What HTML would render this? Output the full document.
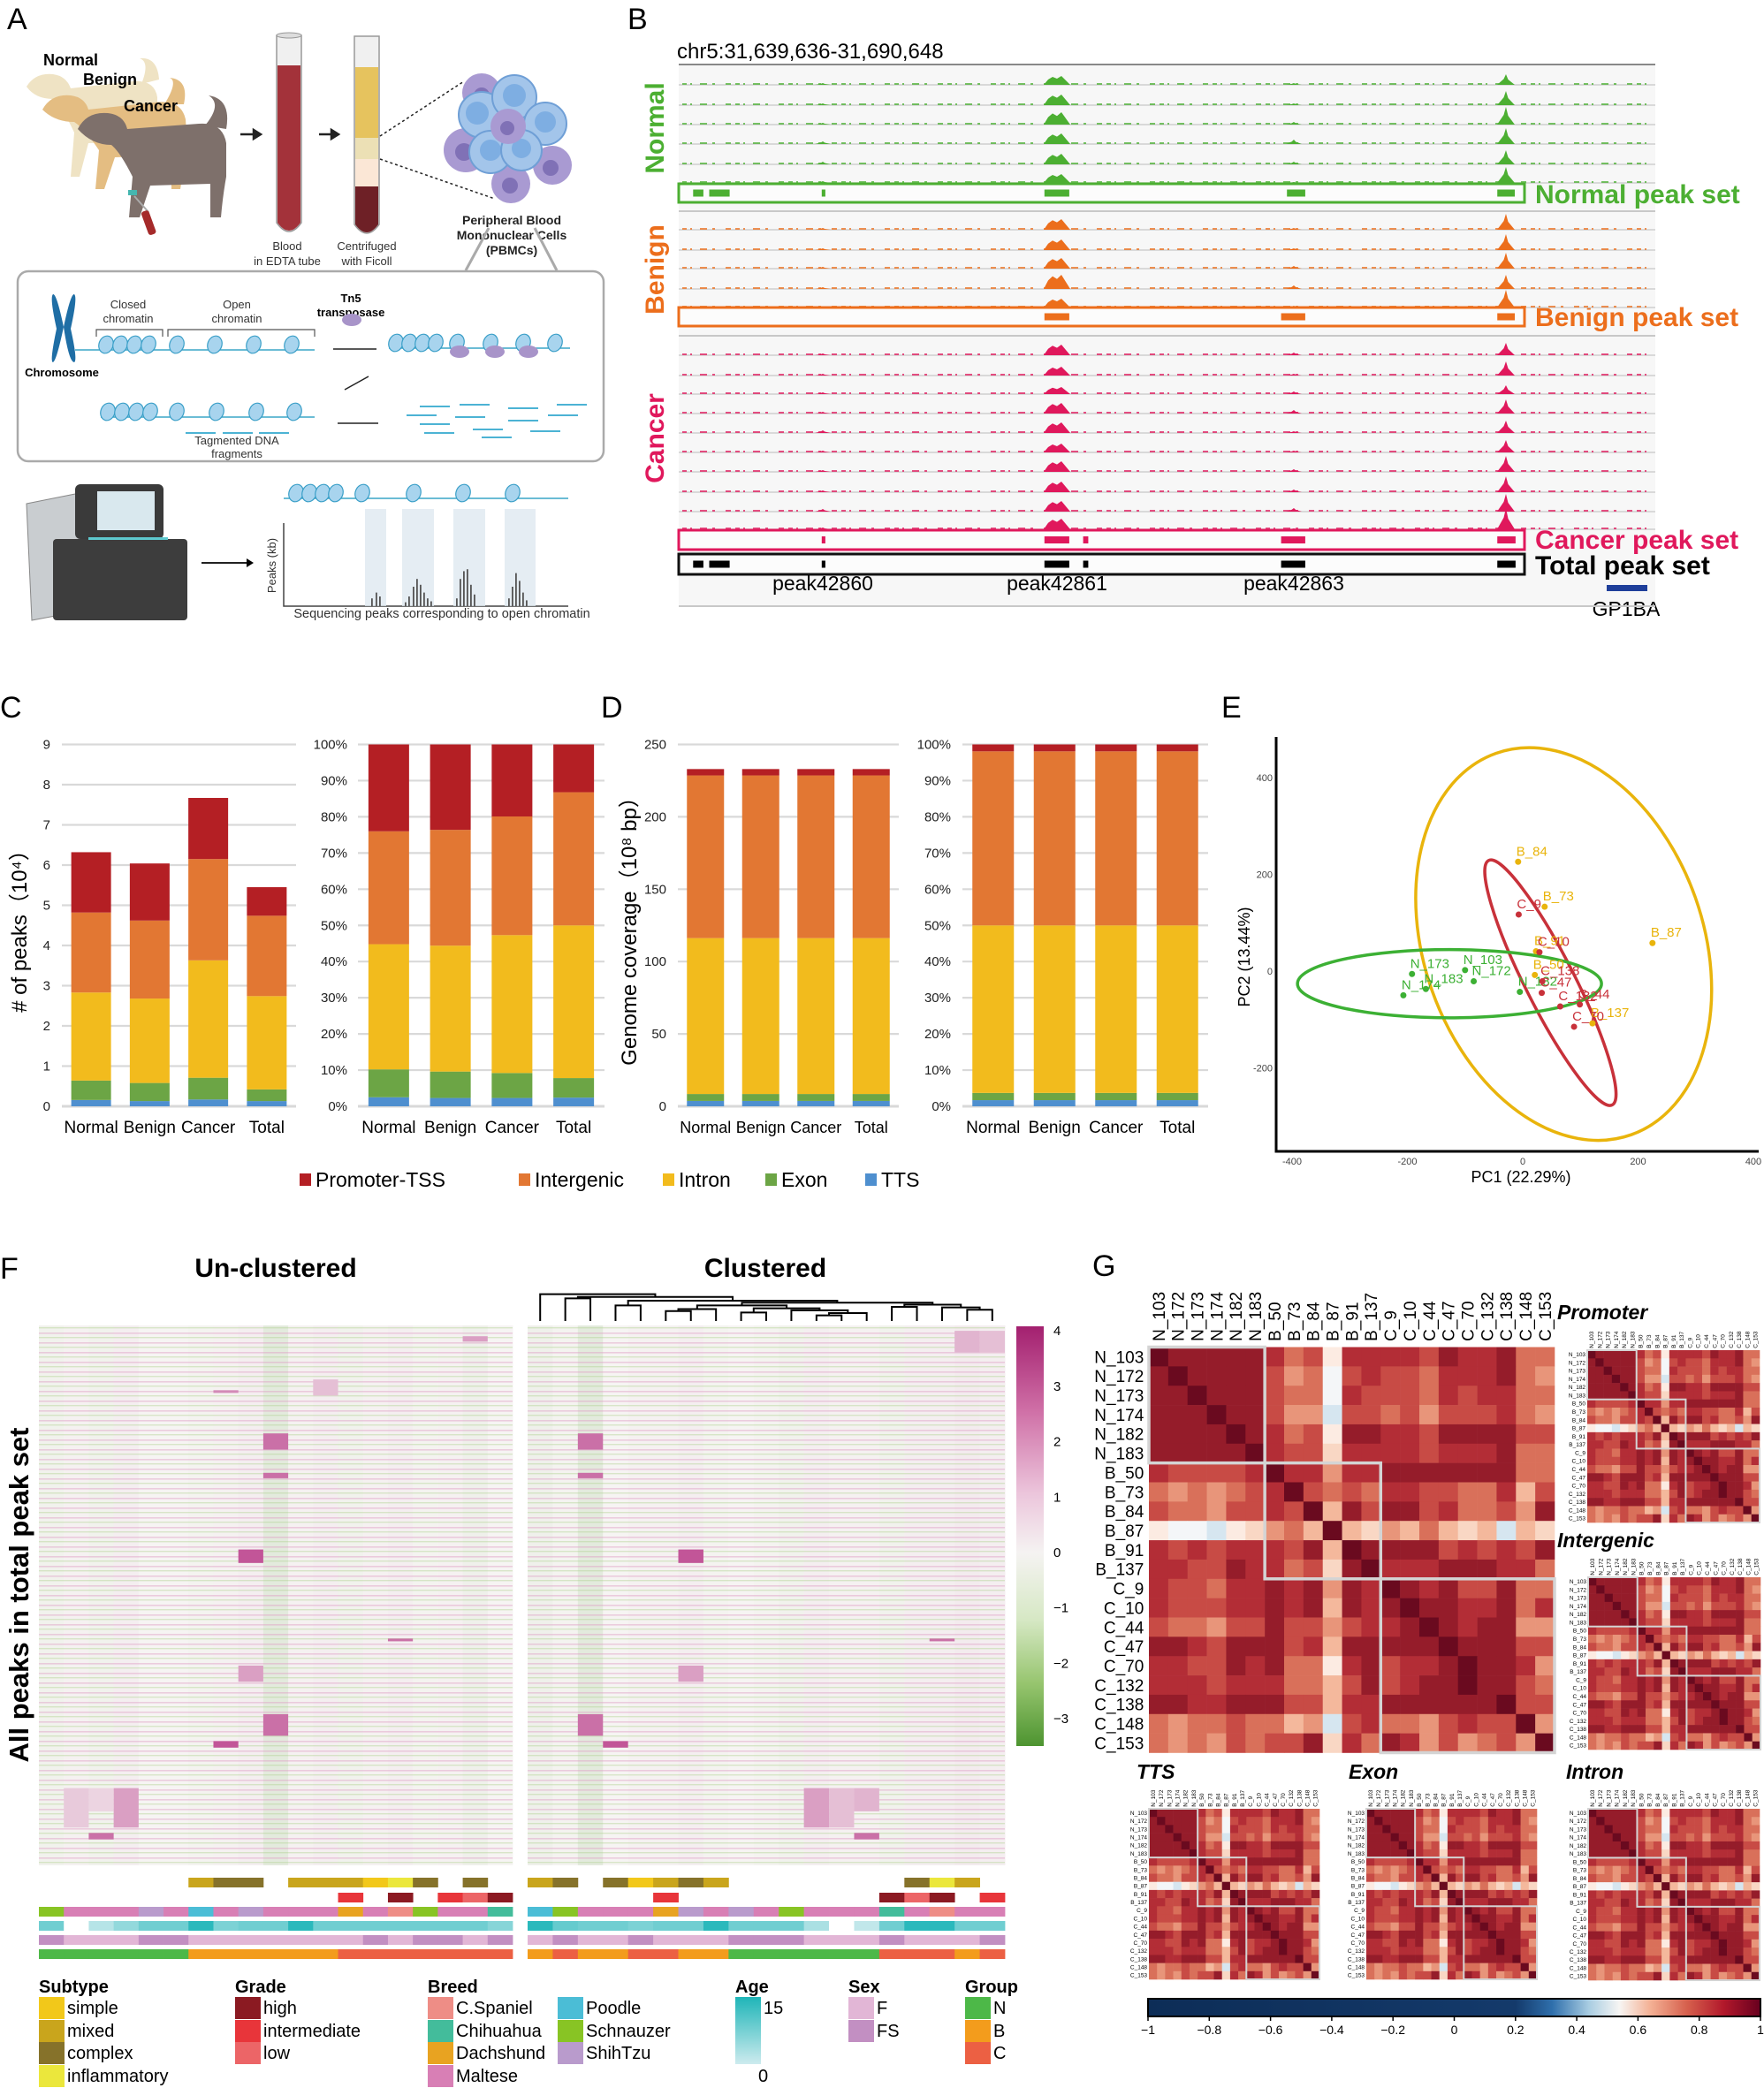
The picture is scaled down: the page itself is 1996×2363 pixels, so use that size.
<!DOCTYPE html>
<html><head><meta charset="utf-8"><title>ATAC-seq figure</title>
<style>
body{margin:0;background:#fff;}
svg{display:block;font-family:"Liberation Sans",Arial,sans-serif;}
.pl{font-size:34px;fill:#000;}
</style></head>
<body>
<svg id="fig" width="1996" height="2363" viewBox="0 0 1996 2363" xmlns="http://www.w3.org/2000/svg">
<defs>
  <linearGradient id="hmGrad" x1="0" y1="0" x2="0" y2="1">
    <stop offset="0" stop-color="#a3206f"/><stop offset="0.2" stop-color="#cf6fa6"/><stop offset="0.4" stop-color="#ecc6dc"/>
    <stop offset="0.54" stop-color="#f5f3f2"/><stop offset="0.7" stop-color="#d6e8c4"/><stop offset="0.85" stop-color="#97c56f"/><stop offset="1" stop-color="#4d9430"/>
  </linearGradient>
  <linearGradient id="corrGrad" x1="0" y1="0" x2="1" y2="0">
    <stop offset="0" stop-color="#0d2d57"/><stop offset="0.6" stop-color="#143a6b"/><stop offset="0.66" stop-color="#2f6fac"/>
    <stop offset="0.72" stop-color="#a9cde2"/><stop offset="0.77" stop-color="#f7f5f3"/><stop offset="0.82" stop-color="#f4b195"/>
    <stop offset="0.88" stop-color="#d6604d"/><stop offset="0.94" stop-color="#b2182b"/><stop offset="1" stop-color="#67001f"/>
  </linearGradient>
  <pattern id="hmTex" width="40" height="11" patternUnits="userSpaceOnUse">
    <rect x="0" y="1" width="40" height="1.6" fill="#de9cc4" opacity="0.45"/>
    <rect x="0" y="6" width="40" height="1.4" fill="#a9cf86" opacity="0.4"/>
  </pattern>
  <linearGradient id="ageGrad" x1="0" y1="0" x2="0" y2="1"><stop offset="0" stop-color="#1fb5b8"/><stop offset="1" stop-color="#cdebee"/></linearGradient>
</defs>

<!-- ================= PANEL A (schematic) ================= -->
<g>
  <text class="pl" x="8" y="33">A</text>
  <g>
    <path d="M30,98 Q40,82 60,84 Q75,86 80,100 L150,92 Q175,90 178,110 L178,140 Q176,170 170,200 L160,200 L162,160 L100,162 L90,200 L80,200 L84,150 Q70,120 60,112 Q40,112 30,98Z" fill="#efe3c4"/>
    <path d="M160,95 Q170,70 158,66 Q178,64 180,90Z" fill="#efe3c4"/>
    <path d="M48,124 Q58,106 80,108 Q96,110 100,124 L175,116 Q205,112 210,135 L212,165 Q208,190 204,214 L194,214 L194,176 L130,178 L118,214 L108,214 L112,170 Q96,146 84,138 Q62,138 48,124Z" fill="#e4bd82"/>
    <path d="M186,118 Q202,92 192,88 Q214,90 208,118Z" fill="#e4bd82"/>
    <path d="M88,146 Q98,126 122,128 Q140,130 144,146 L225,140 Q252,138 256,162 L256,200 Q252,222 250,246 L238,246 L238,208 L170,210 L158,246 L146,246 L150,200 Q136,172 126,164 Q104,164 88,146Z" fill="#7e706b"/>
    <path d="M232,142 Q252,118 236,108 Q262,112 256,146Z" fill="#7e706b"/>
    <rect x="145" y="215" width="10" height="6" fill="#45b6b0"/>
    <line x1="152" y1="222" x2="168" y2="240" stroke="#aaa" stroke-width="2"/>
    <rect x="163" y="238" width="9" height="28" rx="3" fill="#a52a2a" transform="rotate(-20 168 250)"/>
  </g>
  <text x="49" y="74" font-size="18" font-weight="bold">Normal</text>
  <text x="94" y="96" font-size="18" font-weight="bold">Benign</text>
  <text x="140" y="126" font-size="18" font-weight="bold">Cancer</text>
  <g stroke="#222" stroke-width="2.5" fill="#222">
    <line x1="272" y1="152" x2="290" y2="152"/><path d="M295,152 L287,147 L287,157Z"/>
    <line x1="361" y1="152" x2="378" y2="152"/><path d="M383,152 L375,147 L375,157Z"/>
  </g>
  <g>
    <path d="M313,40 L341,40 L341,252 Q327,272 313,252Z" fill="#f0f0f0" stroke="#999" stroke-width="1.5"/>
    <path d="M314,74 L340,74 L340,252 Q327,270 314,252Z" fill="#a3323a"/>
    <ellipse cx="327" cy="40" rx="14" ry="3" fill="#ddd" stroke="#999"/>
  </g>
  <g>
    <path d="M401,41 L429,41 L429,254 Q415,274 401,254Z" fill="#f0f0f0" stroke="#999" stroke-width="1.5"/>
    <rect x="402" y="76" width="26" height="80" fill="#e6c35e"/>
    <rect x="402" y="156" width="26" height="24" fill="#ece0b5"/>
    <rect x="402" y="180" width="26" height="31" fill="#fbe7d6"/>
    <path d="M402,211 L428,211 L428,254 Q415,272 402,254Z" fill="#6e2026"/>
  </g>
  <text x="325" y="283" font-size="13" text-anchor="middle" fill="#333">Blood</text>
  <text x="325" y="300" font-size="13" text-anchor="middle" fill="#333">in EDTA tube</text>
  <text x="415" y="283" font-size="13" text-anchor="middle" fill="#333">Centrifuged</text>
  <text x="415" y="300" font-size="13" text-anchor="middle" fill="#333">with Ficoll</text>
  <g>
    <line x1="430" y1="154" x2="525" y2="92" stroke="#222" stroke-width="1.5" stroke-dasharray="3 3"/>
    <line x1="430" y1="180" x2="560" y2="225" stroke="#222" stroke-width="1.5" stroke-dasharray="3 3"/>
    <circle cx="545" cy="105" r="22" fill="#a99ad2"/><circle cx="545" cy="108" r="9" fill="#8071b6"/>
    <circle cx="527" cy="170" r="25" fill="#a99ad2"/><circle cx="525" cy="172" r="10" fill="#8071b6"/>
    <circle cx="625" cy="187" r="22" fill="#a99ad2"/><circle cx="623" cy="190" r="9" fill="#8071b6"/>
    <circle cx="578" cy="208" r="22" fill="#a99ad2"/><circle cx="577" cy="210" r="9" fill="#8071b6"/>
    <circle cx="545" cy="130" r="26" fill="#a3c5ea" stroke="#6f9fd6" stroke-width="2"/><circle cx="540" cy="128" r="13" fill="#7eaee2"/>
    <circle cx="582" cy="110" r="25" fill="#a3c5ea" stroke="#6f9fd6" stroke-width="2"/><circle cx="582" cy="108" r="13" fill="#7eaee2"/>
    <circle cx="617" cy="140" r="24" fill="#a3c5ea" stroke="#6f9fd6" stroke-width="2"/><circle cx="617" cy="138" r="12" fill="#7eaee2"/>
    <circle cx="555" cy="172" r="24" fill="#a3c5ea" stroke="#6f9fd6" stroke-width="2"/><circle cx="555" cy="170" r="12" fill="#7eaee2"/>
    <circle cx="590" cy="170" r="23" fill="#a3c5ea" stroke="#6f9fd6" stroke-width="2"/><circle cx="590" cy="168" r="11" fill="#7eaee2"/>
    <circle cx="575" cy="143" r="20" fill="#a99ad2"/><circle cx="574" cy="145" r="8" fill="#8071b6"/>
  </g>
  <text x="579" y="254" font-size="14" font-weight="bold" text-anchor="middle" fill="#222">Peripheral Blood</text>
  <text x="579" y="271" font-size="14" font-weight="bold" text-anchor="middle" fill="#222">Mononuclear Cells</text>
  <text x="579" y="288" font-size="14" font-weight="bold" text-anchor="middle" fill="#222">(PBMCs)</text>
  <line x1="553" y1="258" x2="527" y2="306" stroke="#aaa" stroke-width="3"/>
  <line x1="605" y1="258" x2="630" y2="306" stroke="#aaa" stroke-width="3"/>
  <rect x="20" y="307" width="663" height="215" rx="12" fill="#fff" stroke="#aaa" stroke-width="2.5"/>
  <g fill="#1f6ea5">
    <path d="M60,333 Q64,332 72,370 Q64,408 60,410 Q56,410 64,372 Q56,336 60,333Z"/>
    <path d="M84,333 Q88,336 80,372 Q88,408 84,410 Q78,410 72,370 Q80,332 84,333Z"/>
  </g>
  <text x="70" y="426" font-size="13" font-weight="bold" text-anchor="middle">Chromosome</text>
  <text x="145" y="349" font-size="13" text-anchor="middle" fill="#333">Closed</text>
  <text x="145" y="365" font-size="13" text-anchor="middle" fill="#333">chromatin</text>
  <text x="268" y="349" font-size="13" text-anchor="middle" fill="#333">Open</text>
  <text x="268" y="365" font-size="13" text-anchor="middle" fill="#333">chromatin</text>
  <path d="M109,381 L109,373 L184,373 L184,381 M190,381 L190,373 L356,373 L356,381" fill="none" stroke="#555" stroke-width="1.2"/>
  <text x="397" y="342" font-size="13" font-weight="bold" text-anchor="middle">Tn5</text>
  <text x="397" y="358" font-size="13" font-weight="bold" text-anchor="middle">transposase</text>
  <g id="nucRows"></g>
  <text x="268" y="503" font-size="13" text-anchor="middle" fill="#333">Tagmented DNA</text>
  <text x="268" y="518" font-size="13" text-anchor="middle" fill="#333">fragments</text>
  <g>
    <path d="M30,570 L100,556 L100,690 L36,702Z" fill="#c9cdd0" stroke="#888"/>
    <rect x="85" y="548" width="100" height="62" rx="6" fill="#3a3a3a"/>
    <rect x="110" y="556" width="65" height="44" fill="#d9e8ee"/>
    <rect x="60" y="610" width="152" height="92" rx="4" fill="#3d3d3d"/>
    <rect x="100" y="608" width="90" height="3" fill="#5ec9cf"/>
  </g>
  <g><line x1="228" y1="637" x2="280" y2="637" stroke="#222" stroke-width="2"/><path d="M287,637 L279,632 L279,642Z"/></g>
  <text x="500" y="699" font-size="14.5" text-anchor="middle" fill="#333">Sequencing peaks corresponding to open chromatin</text>
  <text transform="translate(312,640) rotate(-90)" font-size="13" text-anchor="middle" fill="#333">Peaks (kb)</text>
</g>

<!-- ================= PANEL B ================= -->
<g id="panelB">
  <text class="pl" x="710" y="33">B</text>
  <rect x="768" y="74" width="1105" height="612" fill="#f7f7f7"/>
  <line x1="768" y1="73" x2="1873" y2="73" stroke="#888" stroke-width="2"/>
  <text x="766" y="66" font-size="24">chr5:31,639,636-31,690,648</text>
  <text transform="translate(751,145) rotate(-90)" font-size="30" font-weight="bold" fill="#4caf32" text-anchor="middle">Normal</text>
  <text transform="translate(751,305) rotate(-90)" font-size="30" font-weight="bold" fill="#ec6e1c" text-anchor="middle">Benign</text>
  <text transform="translate(751,496) rotate(-90)" font-size="30" font-weight="bold" fill="#e0185c" text-anchor="middle">Cancer</text>
  <text x="1737" y="230" font-size="30" font-weight="bold" fill="#4caf32">Normal peak set</text>
  <text x="1737" y="369" font-size="30" font-weight="bold" fill="#ec6e1c">Benign peak set</text>
  <text x="1737" y="621" font-size="30" font-weight="bold" fill="#e0185c">Cancer peak set</text>
  <text x="1737" y="650" font-size="30" font-weight="bold" fill="#000">Total peak set</text>
  <rect x="1818" y="662" width="46" height="7" fill="#1f3f9a"/>
  <text x="1840" y="697" font-size="23" text-anchor="middle">GP1BA</text>
</g>

<!-- ================= PANEL C / D ================= -->
<g id="panelCD">
  <text class="pl" x="0" y="812">C</text>
  <text class="pl" x="680" y="812">D</text>
  <text transform="translate(30,1048) rotate(-90)" font-size="24" text-anchor="middle"># of peaks（10⁴）</text>
  <text transform="translate(720,1048) rotate(-90)" font-size="24" text-anchor="middle">Genome coverage（10⁸ bp）</text>
</g>

<!-- ================= PANEL E ================= -->
<g id="panelE">
  <text class="pl" x="1382" y="812">E</text>
  <text transform="translate(1414,1083) rotate(-90)" font-size="18" text-anchor="middle">PC2 (13.44%)</text>
  <text x="1721" y="1338" font-size="18" text-anchor="middle">PC1 (22.29%)</text>
</g>

<!-- ================= PANEL F ================= -->
<g id="panelF">
  <text class="pl" x="0" y="1447">F</text>
  <text x="312" y="1445" font-size="30" font-weight="bold" text-anchor="middle">Un-clustered</text>
  <text x="866" y="1445" font-size="30" font-weight="bold" text-anchor="middle">Clustered</text>
  <text transform="translate(32,1805) rotate(-90)" font-size="31" font-weight="bold" text-anchor="middle">All peaks in total peak set</text>
  <rect x="1150" y="1501" width="31" height="475" fill="url(#hmGrad)"/>
</g>

<!-- ================= PANEL G ================= -->
<g id="panelG">
  <text class="pl" x="1236" y="1444">G</text>
  <text x="1762" y="1493" font-size="23" font-weight="bold" font-style="italic">Promoter</text>
  <text x="1762" y="1751" font-size="23" font-weight="bold" font-style="italic">Intergenic</text>
  <text x="1286" y="2013" font-size="23" font-weight="bold" font-style="italic">TTS</text>
  <text x="1526" y="2013" font-size="23" font-weight="bold" font-style="italic">Exon</text>
  <text x="1772" y="2013" font-size="23" font-weight="bold" font-style="italic">Intron</text>
  <rect x="1299" y="2262" width="693" height="20" fill="url(#corrGrad)" stroke="#000" stroke-width="2"/>
</g>
</svg>

<script>
// ---------------- DATA ----------------
const categories = ['Normal','Benign','Cancer','Total'];
const seriesNames = ['TTS','Exon','Intron','Intergenic','Promoter-TSS'];
const peaksTTS = [0.157, 0.13, 0.17, 0.13];
const peaksExon = [0.483, 0.45, 0.54, 0.29];
const peaksIntron = [2.19, 2.10, 2.92, 2.32];
const peaksIntergenic = [1.99, 1.94, 2.52, 2.00];
const peaksPromoter = [1.50, 1.42, 1.52, 0.71];
const pctTTS = [2.5, 2.3, 2.3, 2.4];
const pctExon = [7.7, 7.3, 6.9, 5.4];
const pctIntron = [34.6, 34.8, 38.1, 42.2];
const pctIntergenic = [31.2, 32.0, 32.8, 36.8];
const pctPromoter = [24.0, 23.6, 19.9, 13.2];
const covTTS = [3.7, 3.7, 3.7, 3.7];
const covExon = [4.8, 4.8, 4.8, 4.8];
const covIntron = [107.7, 107.7, 107.7, 107.7];
const covIntergenic = [112.4, 112.4, 112.4, 112.4];
const covPromoter = [4.4, 4.4, 4.4, 4.4];
const covPctTTS = [1.7, 1.7, 1.7, 1.7];
const covPctExon = [2.0, 2.0, 2.0, 2.0];
const covPctIntron = [46.3, 46.3, 46.3, 46.3];
const covPctIntergenic = [48.1, 48.1, 48.1, 48.1];
const covPctPromoter = [1.9, 1.9, 1.9, 1.9];
const peaksTicks = [0,1,2,3,4,5,6,7,8,9];
const pctTicks = [0,10,20,30,40,50,60,70,80,90,100];
const covTicks = [0,50,100,150,200,250];

const pcaNames = ['N_103','N_172','N_173','N_174','N_182','N_183','B_50','B_73','B_84','B_87','B_91','B_137','C_9','C_10','C_44','C_47','C_70','C_132','C_138'];
const pcaGroup = ['N','N','N','N','N','N','B','B','B','B','B','B','C','C','C','C','C','C','C'];
const pc1 = [-100,-85,-192,-207,-5,-168,21,38,-8,225,23,121,-7,29,99,33,89,65,34];
const pc2 = [2,-21,-6,-50,-43,-37,-8,133,226,58,41,-108,117,39,-69,-45,-115,-73,-21];
const pcTicks = [-400,-200,0,200,400];
const pc2Ticks = [-200,0,200,400];
const ellipseGroups = ['B','C','N'];
const ellipseCx = [71, 48, -127];
const ellipseCy = [56, -24, -26];

const regionStart = 31639636, regionEnd = 31690648;
const peakCentres = [31659394, 31682846, 31671766, 31647161];
const normalHeights = [[0.5,0.6,0.1,0.1],[0.6,0.8,0.1,0.1],[0.7,1.0,0.15,0.1],[0.6,0.9,0.25,0.15],[0.6,0.8,0.15,0.15],[0.5,0.9,0.05,0.1]];
const benignHeights = [[0.6,0.9,0.1,0.1],[0.6,0.9,0.1,0.1],[0.6,0.9,0.15,0.1],[0.8,0.8,0.2,0.1],[0.5,1.0,0.1,0.05]];
const cancerHeights = [[0.6,0.7,0.15,0.1],[0.5,0.8,0.1,0.1],[0.4,0.5,0.15,0.1],[0.6,0.8,0.2,0.1],[0.6,0.7,0.1,0.15],[0.5,0.7,0.1,0.1],[0.6,0.9,0.15,0.1],[0.6,0.9,0.15,0.1],[0.6,1.0,0.2,0.15],[0.6,1.2,0.05,0.1]];
const normalSet = [[31640388,31640924],[31641229,31642295],[31647106,31647295],[31658739,31660036],[31671407,31672363],[31682395,31683309]];
const benignSet = [[31658739,31660036],[31671102,31672363],[31682395,31683309]];
const cancerSet = [[31647106,31647295],[31658739,31660036],[31660761,31661029],[31671102,31672363],[31682395,31683350]];
const totalSet = [[31640388,31640924],[31641229,31642295],[31647106,31647295],[31658739,31660036],[31660761,31661029],[31671102,31672363],[31682395,31683350]];
const peakLabels = ['peak42860','peak42861','peak42863'];
const peakLabelPos = [31647161, 31659394, 31671766];

const hmBaseU = [-0.2,0.1,-0.2,0.2,0,0,-0.1,0.1,0.2,-0.8,0.1,0.2,-0.2,0.1,0.2,-0.1,0.1,-0.3,0];
const hmBaseC = [-0.3,-0.1,-0.8,0,0.1,0.1,0.2,-0.1,0,-0.1,-0.2,0.2,0.1,0.1,-0.2,0.2,0.2,0.3,0.2];
const hmBandsU = [[9,0.2,0.23,2.5],[9,0.273,0.283,2.5],[9,0.72,0.76,2.5],[8,0.415,0.44,3],[8,0.63,0.66,1.6],[7,0.77,0.782,3],[3,0.857,0.93,1.6],[1,0.857,0.93,0.8],[2,0.857,0.9,0.6],[2,0.94,0.952,2.5],[7,0.12,0.125,2],[14,0.58,0.585,2.5],[11,0.1,0.13,1],[17,0.02,0.03,1.6]];
const hmBandsC = [[2,0.2,0.23,2.5],[2,0.273,0.283,2.5],[2,0.72,0.76,2.5],[3,0.77,0.782,3],[6,0.415,0.44,3],[6,0.63,0.66,1.6],[11,0.857,0.93,1.6],[12,0.857,0.93,1],[13,0.857,0.9,1.2],[13,0.94,0.952,2.5],[17,0.01,0.05,1.2],[18,0.01,0.05,1],[16,0.58,0.585,2.5]];
const hmTicks = [4,3,2,1,0,-1,-2,-3];
const subtypeU = ['','','','','','','mixed','complex','complex','','mixed','mixed','mixed','simple','inflammatory','complex','','complex',''];
const gradeU = ['','','','','','','','','','','','','intermediate','','high','','intermediate','low','high'];
const breedU = ['Schnauzer','Maltese','Maltese','Maltese','ShihTzu','Maltese','Poodle','Maltese','ShihTzu','Maltese','Maltese','Maltese','Dachshund','Maltese','C.Spaniel','Schnauzer','Maltese','Maltese','Chihuahua'];
const ageU = [8,0,2,5,8,8,14,7,8,8,14,8,8,8,8,8,8,8,6];
const sexU = ['FS','F','F','F','FS','FS','F','F','F','F','F','F','F','FS','F','FS','FS','F','FS'];
const groupU = ['N','N','N','N','N','N','B','B','B','B','B','B','C','C','C','C','C','C','C'];
const subtypeC = ['mixed','complex','','complex','simple','mixed','complex','mixed','','','','','','','','complex','inflammatory','mixed',''];
const gradeC = ['','','','','','intermediate','','','','','','','','','high','low','high','','intermediate'];
const breedC = ['Poodle','Schnauzer','Maltese','Maltese','Maltese','Dachshund','ShihTzu','Maltese','ShihTzu','Maltese','Schnauzer','Maltese','Maltese','Maltese','Chihuahua','Maltese','C.Spaniel','Maltese','Maltese'];
const ageC = [14,9,8,8,7,8,8,14,8,8,8,3,0,1,8,14,14,8,8];
const sexC = ['F','FS','F','F','FS','F','F','F','FS','FS','FS','F','F','F','FS','F','F','F','FS'];
const groupC = ['B','C','B','B','C','C','B','B','N','N','N','N','N','N','C','C','C','B','C'];
const dendroMerges = [[11,12,0.2],[19,13,0.28],[10,20,0.38],[8,9,0.3],[22,21,0.45],[5,6,0.35],[24,7,0.42],[17,18,0.4],[16,26,0.48],[14,15,0.5],[28,27,0.58],[25,23,0.55],[30,29,0.65],[3,4,0.55],[32,31,0.72],[1,2,0.8],[34,33,0.85],[0,35,0.95]];

const corrLabels = ['N_103','N_172','N_173','N_174','N_182','N_183','B_50','B_73','B_84','B_87','B_91','B_137','C_9','C_10','C_44','C_47','C_70','C_132','C_138','C_148','C_153'];
const corrRows = [
'988888756177776877855',
'898888645067665777854',
'889888655076665767755',
'888988644-66564666754',
'888898756188776888866',
'888889766277776777855',
'766667977477888888855',
'545456796565776655736',
'655466769386886755648',
'100-12453932435323-32',
'767677768398888676768',
'776687756289777888775',
'766577878487987866855',
'766677878387898877857',
'655466866467789878844',
'887688867388888988866',
'776687855178677898874',
'777677755368678898865',
'887788866377888888966',
'545565534-67554676694',
'545465668275874645649'];
const corrTicks = [-1,-0.8,-0.6,-0.4,-0.2,0,0.2,0.4,0.6,0.8,1];

// ---------------- HELPERS ----------------
const NS = 'http://www.w3.org/2000/svg';
const svg = document.getElementById('fig');
function mk(tag, attrs, parent) {
  const e = document.createElementNS(NS, tag);
  for (const k in attrs) e.setAttribute(k, attrs[k]);
  (parent || svg).appendChild(e);
  return e;
}
function txt(str, attrs, parent) { const e = mk('text', attrs, parent); e.textContent = str; return e; }
const segColors = ['#4e8fcf','#6ca545','#f2bb1d','#e27733','#b41f24'];

// ---------------- PANEL A nucleosomes ----------------
const nucG = document.getElementById('nucRows');
function nucRow(x0, x1, y, xs) {
  const l = mk('line', {x1:x0, y1:y+6, x2:x1, y2:y+6, stroke:'#3aa6c7', 'stroke-width':1.5}, nucG);
  
  
  xs.forEach(x => {
    const n = mk('ellipse', {cx:x, cy:y, rx:8, ry:10, fill:'#a8d4ee', stroke:'#3a9fc8', 'stroke-width':1.2, transform:`rotate(20 ${x} ${y})`}, nucG);
    
    
  });
}
nucRow(85, 356, 390, [120,136,152,168,200,243,287,330]);
nucRow(440, 645, 388, [448,463,478,493,517,555,592,628]);
nucRow(114, 356, 466, [122,138,154,170,200,245,290,333]);
nucRow(321, 643, 558, [335,350,365,380,410,468,524,580]);
[[520,398],[560,398],[598,398],[398,362]].forEach(p => {
  const t = mk('ellipse', {cx:p[0], cy:p[1], rx:11, ry:7, fill:'#a894c9'}, nucG);
  
  
});
[[377,426,395],[382,428,479]].forEach(a => {
  const ar = mk('line', {x1:a[0], y1:a[2], x2:a[1], y2:a[2], stroke:'#222', 'stroke-width':1.5}, nucG);
  
  
});
const diag = mk('line', {x1:417, y1:426, x2:390, y2:441, stroke:'#222', 'stroke-width':1.5}, nucG);


[[475,460],[520,458],[575,462],[630,458],[460,470],[515,472],[575,476],[620,470],[475,480],[535,486],[480,490],[600,488],[545,495]].forEach(f => {
  const fr = mk('line', {x1:f[0], y1:f[1], x2:f[0]+34, y2:f[1], stroke:'#4cb3d4', 'stroke-width':2}, nucG);
  
  
});
[[210,490],[252,490],[293,490]].forEach(f => {
  const fr = mk('line', {x1:f[0], y1:f[1], x2:f[0]+34, y2:f[1], stroke:'#4cb3d4', 'stroke-width':2}, nucG);
  
  
});
const axA = mk('path', {d:'M321,592 L321,686 L643,686', fill:'none', stroke:'#444', 'stroke-width':1.5}, nucG);


[[413,24],[455,36],[513,36],[571,35]].forEach(s => {
  const sh = mk('rect', {x:s[0], y:576, width:s[1], height:110, fill:'#dfe8f0', opacity:0.8}, nucG);
  
  
});
[[420,8],[425,14],[429,10],[458,4],[462,10],[467,20],[471,28],[475,22],[479,14],[483,8],[487,5],[516,8],[520,28],[524,36],[528,38],[532,22],[536,12],[575,8],[579,20],[583,34],[587,26],[591,14],[595,6]].forEach(b => {
  const bar = mk('rect', {x:b[0], y:686-b[1]*1.1, width:1.8, height:b[1]*1.1, fill:'#555'}, nucG);
  
  
});

// ---------------- PANEL B tracks ----------------
const pB = document.getElementById('panelB');
function xg(bp) { return 768 + (bp - regionStart) / (regionEnd - regionStart) * 1105; }
function drawTrack(y, heights, color) {
  const base = mk('line', {x1:768, y1:y, x2:1873, y2:y, stroke:'#cfcfcf', 'stroke-width':1.4}, pB);
  
  
  const noise = mk('line', {x1:772, y1:y-1, x2:1870, y2:y-1, stroke:color, 'stroke-width':2, 'stroke-dasharray':'5 4 2 9 8 6 3 12 6 5', opacity:0.75}, pB);
  
  
  heights.forEach((h, i) => {
    const x = xg(peakCentres[i]);
    const hp = h * 20;
    const w = i === 0 ? 30 : (i === 1 ? 20 : 18);
    let d;
    if (i === 0) d = `M${x-w/2},${y} L${x-w/3},${y-hp*0.6} L${x-w/6},${y-hp*0.9} L${x},${y-hp*0.7} L${x+w/6},${y-hp} L${x+w/3},${y-hp*0.5} L${x+w/2},${y}Z`;
    else d = `M${x-w/2},${y} L${x-w/8},${y-hp*0.55} L${x},${y-hp} L${x+w/8},${y-hp*0.5} L${x+w/2},${y}Z`;
    const pk = mk('path', {d:d, fill:color}, pB);
    
    
  });
}
[96,119,141,163,186,207].forEach((y, i) => drawTrack(y, normalHeights[i], '#4caf32'));
[260,283,304,327,348].forEach((y, i) => drawTrack(y, benignHeights[i], '#ec6e1c'));
[402,425,446,468,490,512,534,557,579,599].forEach((y, i) => drawTrack(y, cancerHeights[i], '#e0185c'));
[239,380,686].forEach(y => {
  const s = mk('line', {x1:768, y1:y, x2:1873, y2:y, stroke:'#c8c8c8', 'stroke-width':2}, pB);
  
  
});
function drawSet(set, y0, y1, color, fillColor, name) {
  const box = mk('rect', {x:768, y:y0, width:957, height:y1-y0, fill:'#fff', 'fill-opacity':0.6, stroke:color, 'stroke-width':3}, pB);
  
  
  set.forEach(s => {
    const r = mk('rect', {x:xg(s[0]), y:(y0+y1)/2-4, width:Math.max(3, xg(s[1])-xg(s[0])), height:8, fill:fillColor}, pB);
    
    
  });
}
drawSet(normalSet, 208, 229, '#4caf32', '#4caf32', 'normal-peak-set');
drawSet(benignSet, 348, 369, '#ec6e1c', '#ec6e1c', 'benign-peak-set');
drawSet(cancerSet, 600, 622, '#e0185c', '#e0185c', 'cancer-peak-set');
drawSet(totalSet, 627, 650, '#111', '#000', 'total-peak-set');
peakLabels.forEach((l, i) => {
  const t = txt(l, {x:xg(peakLabelPos[i]), y:668, 'font-size':23, 'text-anchor':'middle'}, pB);
  
  
});

// ---------------- PANEL C/D stacked bars ----------------
const pCD = document.getElementById('panelCD');
function stacked(opt) {
  const yTop = 842.5, yBot = 1252;
  const ys = v => yBot - v / opt.max * (yBot - yTop);
  const step = (opt.x1 - opt.x0) / categories.length;
  opt.ticks.forEach(t => {
    const gl = mk('line', {x1:opt.x0, y1:ys(t), x2:opt.x1, y2:ys(t), stroke:'#d9d9d9', 'stroke-width':t === 0 ? 3 : 2.2}, pCD);
    
    
    const tl = txt(t + opt.suffix, {x:opt.tx, y:ys(t)+5, 'font-size':15, 'text-anchor':'end', fill:'#222'}, pCD);
    
    
  });
  categories.forEach((c, i) => {
    const cx = opt.x0 + step * (i + 0.5);
    let acc = 0;
    opt.series.forEach((s, k) => {
      const v = s[i];
      const r = mk('rect', {x:cx - opt.w/2, y:ys(acc + v), width:opt.w, height:ys(acc) - ys(acc + v), fill:segColors[k]}, pCD);
      
      
      acc += v;
    });
    const xl = txt(c, {x:cx, y:1282, 'font-size':opt.fs, 'text-anchor':'middle'}, pCD);
    
    
  });
}
stacked({x0:70, x1:335, w:45, max:9, ticks:peaksTicks, suffix:'', tx:57, fs:19, series:[peaksTTS,peaksExon,peaksIntron,peaksIntergenic,peaksPromoter]});
stacked({x0:405, x1:684, w:46, max:100, ticks:pctTicks, suffix:'%', tx:393, fs:19, series:[pctTTS,pctExon,pctIntron,pctIntergenic,pctPromoter]});
stacked({x0:767, x1:1017, w:42, max:250, ticks:covTicks, suffix:'', tx:754, fs:18, series:[covTTS,covExon,covIntron,covIntergenic,covPromoter]});
stacked({x0:1089, x1:1367, w:47, max:100, ticks:pctTicks, suffix:'%', tx:1076, fs:19, series:[covPctTTS,covPctExon,covPctIntron,covPctIntergenic,covPctPromoter]});
[4,3,2,1,0].forEach((k, j) => {
  const xs = [357,605,768,884,997][j];
  const sq = mk('rect', {x:xs-18, y:1328, width:13, height:14, fill:segColors[k]}, pCD);
  
  
  const lt = txt(seriesNames[k], {x:xs, y:1343, 'font-size':23}, pCD);
  
  
});

// ---------------- PANEL E PCA ----------------
const pE = document.getElementById('panelE');
const px = v => 1723 + v * 0.6525;
const py = v => 1099 - v * 0.5475;
const gcol = {N:'#3cb034', B:'#e9b40c', C:'#c8313a'};
const axE = mk('path', {d:'M1444,834 L1444,1303 L1990,1303', fill:'none', stroke:'#000', 'stroke-width':3}, pE);


pcTicks.forEach(t => {
  const l = txt(String(t), {x:px(t), y:1318, 'font-size':11, 'text-anchor':'middle', fill:'#444'}, pE);
  
  
});
pc2Ticks.forEach(t => {
  const l = txt(String(t), {x:1440, y:py(t)+4, 'font-size':11, 'text-anchor':'end', fill:'#444'}, pE);
  
  
});
const ellRx = [158, 28, 172], ellRy = [229, 155, 38.6], ellRot = [-19.5, -26.8, 0];
ellipseGroups.forEach((g, i) => {
  const e = mk('ellipse', {cx:px(ellipseCx[i]), cy:py(ellipseCy[i]), rx:ellRx[i], ry:ellRy[i], fill:'none', stroke:gcol[g], 'stroke-width':3.5, transform:`rotate(${ellRot[i]} ${px(ellipseCx[i])} ${py(ellipseCy[i])})`}, pE);
  
  
});
pcaNames.forEach((n, i) => {
  const c = mk('circle', {cx:px(pc1[i]), cy:py(pc2[i]), r:3.5, fill:gcol[pcaGroup[i]]}, pE);
  
  
  const t = txt(n, {x:px(pc1[i]) - 2, y:py(pc2[i]) - 7, 'font-size':15, fill:gcol[pcaGroup[i]]}, pE);
  
  
});

// ---------------- PANEL F heatmaps ----------------
const pF = document.getElementById('panelF');
function hmColor(v) {
  const t = Math.min(1, Math.abs(v) / 4);
  const a = v >= 0 ? [176,32,122] : [77,154,42];
  const b = [246,244,243];
  return `rgb(${a.map((c, k) => Math.round(b[k] + (c - b[k]) * t)).join(',')})`;
}
function heatmap(x0, x1, base, bands, name) {
  const y0 = 1500, y1 = 2111, cw = (x1 - x0) / base.length;
  base.forEach((v, i) => {
    const r = mk('rect', {x:x0 + i*cw, y:y0, width:cw + 0.5, height:y1 - y0, fill:hmColor(v * 0.55)}, pF);
    
    
  });
  const tex = mk('rect', {x:x0, y:y0, width:x1 - x0, height:y1 - y0, fill:'url(#hmTex)'}, pF);
  
  
  bands.forEach(b => {
    const r = mk('rect', {x:x0 + b[0]*cw, y:y0 + b[1]*(y1 - y0), width:cw, height:(b[2] - b[1])*(y1 - y0), fill:hmColor(b[3])}, pF);
    
    
  });
}
heatmap(44, 580, hmBaseU, hmBandsU, 'unclustered-heatmap');
heatmap(597, 1137, hmBaseC, hmBandsC, 'clustered-heatmap');
hmTicks.forEach(t => {
  const y = 1756 - t * 62.7;
  const l = txt(t < 0 ? '−' + (-t) : String(t), {x:1192, y:y + 6, 'font-size':15}, pF);
  
  
});
(function() {
  const x0 = 597, cw = (1137 - 597) / 19, yb = 1495, yt = 1463;
  const pos = [], ht = [];
  for (let i = 0; i < 19; i++) { pos.push(x0 + cw * (i + 0.5)); ht.push(0); }
  dendroMerges.forEach(m => {
    const h = yb - m[2] * (yb - yt);
    const a = m[0], b = m[1];
    const ya = yb - ht[a] * (yb - yt), yb2 = yb - ht[b] * (yb - yt);
    const p = mk('path', {d:`M${pos[a]},${ya} L${pos[a]},${h} L${pos[b]},${h} L${pos[b]},${yb2}`, fill:'none', stroke:'#000', 'stroke-width':2}, pF);
    
    
    pos.push((pos[a] + pos[b]) / 2); ht.push(m[2]);
  });
})();
const subtypeCol = {simple:'#f2c81a', mixed:'#c9a51c', complex:'#86722a', inflammatory:'#ebe73c'};
const gradeCol = {high:'#8b1a22', intermediate:'#e8353a', low:'#ec6567'};
const breedCol = {'C.Spaniel':'#ee8d86', Chihuahua:'#43bc9b', Dachshund:'#e8a321', Maltese:'#d87fb5', Poodle:'#4bbdd6', Schnauzer:'#88c424', ShihTzu:'#b99bcc'};
const sexCol = {F:'#e2b6d6', FS:'#c28fc2'};
const groupCol = {N:'#4db848', B:'#f39c1c', C:'#ec6043'};
function ageColor(a) { const t = a / 15; return a === 0 ? '#ffffff' : `rgb(${Math.round(205 - 174*t)},${Math.round(235 - 54*t)},${Math.round(238 - 54*t)})`; }
function annot(x0, x1, sub, gr, br, ag, sx, grp, name) {
  const cw = (x1 - x0) / 19;
  const rows = [[sub, v => subtypeCol[v], 2125], [gr, v => gradeCol[v], 2142], [br, v => breedCol[v], 2158], [ag, v => ageColor(v), 2174], [sx, v => sexCol[v], 2190], [grp, v => groupCol[v], 2206]];
  rows.forEach(r => {
    r[0].forEach((v, i) => {
      if (v === '') return;
      const c = r[1](v);
      if (!c) return;
      const a = mk('rect', {x:x0 + i*cw, y:r[2], width:cw + 0.4, height:11, fill:c}, pF);
      
      
    });
  });
}
annot(44, 580, subtypeU, gradeU, breedU, ageU, sexU, groupU, 'unclustered');
annot(597, 1137, subtypeC, gradeC, breedC, ageC, sexC, groupC, 'clustered');
function legendBlock(title, items, sx) {
  const t = txt(title, {x:sx, y:2255, 'font-size':20, 'font-weight':'bold'}, pF);
  
  
  items.forEach(it => {
    const s = mk('rect', {x:it[2], y:it[3] - 12, width:29, height:25, fill:it[1]}, pF);
    
    
    const l = txt(it[0], {x:it[2] + 32, y:it[3] + 7, 'font-size':20}, pF);
    
    
  });
}
const lr = [2272, 2298, 2323, 2349];
legendBlock('Subtype', [['simple',subtypeCol.simple,44,lr[0]],['mixed',subtypeCol.mixed,44,lr[1]],['complex',subtypeCol.complex,44,lr[2]],['inflammatory',subtypeCol.inflammatory,44,lr[3]]], 44);
legendBlock('Grade', [['high',gradeCol.high,266,lr[0]],['intermediate',gradeCol.intermediate,266,lr[1]],['low',gradeCol.low,266,lr[2]]], 266);
legendBlock('Breed', [['C.Spaniel',breedCol['C.Spaniel'],484,lr[0]],['Chihuahua',breedCol.Chihuahua,484,lr[1]],['Dachshund',breedCol.Dachshund,484,lr[2]],['Maltese',breedCol.Maltese,484,lr[3]],['Poodle',breedCol.Poodle,631,lr[0]],['Schnauzer',breedCol.Schnauzer,631,lr[1]],['ShihTzu',breedCol.ShihTzu,631,lr[2]]], 484);
legendBlock('Sex', [['F',sexCol.F,960,lr[0]],['FS',sexCol.FS,960,lr[1]]], 960);
legendBlock('Group', [['N',groupCol.N,1092,lr[0]],['B',groupCol.B,1092,lr[1]],['C',groupCol.C,1092,lr[2]]], 1092);
(function() {
  const t = txt('Age', {x:832, y:2255, 'font-size':20, 'font-weight':'bold'}, pF);
  
  
  const g = mk('rect', {x:832, y:2260, width:29, height:76, fill:'url(#ageGrad)'}, pF);
  
  
  const a = txt('15', {x:864, y:2279, 'font-size':20}, pF);
  
  
  const b = txt('0', {x:858, y:2356, 'font-size':20}, pF);
  
  
})();

// ---------------- PANEL G correlation ----------------
const pG = document.getElementById('panelG');
const digitCol = {'-':'#d6e6f0','0':'#f4f6f8','1':'#fcebe2','2':'#f9d7c4','3':'#f4b89c','4':'#e8957a','5':'#d9705a','6':'#c84b45','7':'#b32d36','8':'#951c2a','9':'#6a0a1f'};
function corrValue(ch) { return ch === '-' ? -0.1 : parseInt(ch, 10) / 10; }
function corrColor(v) { if (v < 0) return digitCol['-']; return digitCol[String(Math.round(v * 10))]; }
function corrMatrix(x0, y0, size, fs, name, lw) {
  const n = corrLabels.length, c = size / n;
  corrRows.forEach((row, i) => {
    for (let j = 0; j < n; j++) {
      const r = mk('rect', {x:x0 + j*c, y:y0 + i*c, width:c + 0.3, height:c + 0.3, fill:corrColor(corrValue(row[j]))}, pG);
      
      
    }
  });
  [[0,6],[6,12],[12,21]].forEach(b => {
    const r = mk('rect', {x:x0 + b[0]*c, y:y0 + b[0]*c, width:(b[1]-b[0])*c, height:(b[1]-b[0])*c, fill:'none', stroke:'#d4d4d4', 'stroke-width':lw}, pG);
    
    
  });
  corrLabels.forEach((l, i) => {
    const rl = txt(l, {x:x0 - fs*0.3, y:y0 + (i + 0.5)*c + fs*0.36, 'font-size':fs, 'text-anchor':'end'}, pG);
    
    
    const cx = x0 + (i + 0.5)*c + fs*0.36, cy = y0 - fs*0.35;
    const cl = txt(l, {x:cx, y:cy, 'font-size':fs, 'text-anchor':'start', transform:`rotate(-90 ${cx} ${cy})`}, pG);
    
    
  });
}
corrMatrix(1300, 1524.5, 459, 19, 'all-peaks-correlation', 3.5);
corrMatrix(1796, 1528, 195, 6.5, 'promoter-correlation', 2);
corrMatrix(1797, 1785, 195, 6.5, 'intergenic-correlation', 2);
corrMatrix(1300, 2047, 193, 6.5, 'tts-correlation', 2);
corrMatrix(1546, 2047, 193, 6.5, 'exon-correlation', 2);
corrMatrix(1797, 2047, 194, 6.5, 'intron-correlation', 2);
corrTicks.forEach(t => {
  const x = 1299 + (t + 1) / 2 * 693;
  const tk = mk('line', {x1:x, y1:2282, x2:x, y2:2287, stroke:'#000', 'stroke-width':1.5}, pG);
  
  
  const l = txt(String(t).replace('-', '−'), {x:x, y:2302, 'font-size':14, 'text-anchor':'middle'}, pG);
  
  
});
</script>
</body></html>
